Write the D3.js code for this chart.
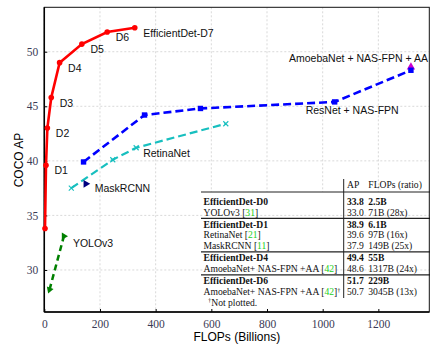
<!DOCTYPE html>
<html>
<head>
<meta charset="utf-8">
<script src="https://cdn.jsdelivr.net/npm/d3@7"></script>
<style>
  body { margin: 0; background: #fff; }
  svg { display: block; }
</style>
</head>
<body>
<svg id="chart" width="444" height="348"></svg>
<script>
// FLOPs (billions) vs COCO AP
const effFlops = [2.5, 6.1, 11, 25, 55, 135, 226, 325];
const effAP    = [33.8, 39.6, 43.0, 45.8, 49.0, 50.7, 51.8, 52.2];
const effNames = ['', 'D1', 'D2', 'D3', 'D4', 'D5', 'D6', 'EfficientDet-D7'];

const nasFlops = [141, 360, 561, 1043, 1317];
const nasAP    = [39.9, 44.2, 44.8, 45.4, 48.3];

const retinaFlops = [97, 246, 330, 652];
const retinaAP    = [37.5, 40.1, 41.2, 43.4];

const yoloFlops = [18.8, 70.4];
const yoloAP    = [28.2, 33.1];

const maskFlops = 149, maskAP = 37.9;
const amoebaFlops = 1317, amoebaAP = 48.6;

const xTicks = [0, 200, 400, 600, 800, 1000, 1200];
const yTicks = [30, 35, 40, 45, 50];

// inset table
const tableHeader = ['AP', 'FLOPs (ratio)'];
const tableModels = ['EfficientDet-D0', 'YOLOv3', 'EfficientDet-D1', 'RetinaNet', 'MaskRCNN',
                     'EfficientDet-D4', 'AmoebaNet+ NAS-FPN +AA', 'EfficientDet-D6', 'AmoebaNet+ NAS-FPN +AA'];
const tableRefs   = ['', '31', '', '21', '11', '', '42', '', '42'];
const tableAP     = ['33.8', '33.0', '38.9', '39.6', '37.9', '49.4', '48.6', '51.7', '50.7'];
const tableFlops  = ['2.5B', '71B (28x)', '6.1B', '97B (16x)', '149B (25x)', '55B', '1317B (24x)', '229B', '3045B (13x)'];
const tableGroups = [0, 0, 1, 1, 1, 2, 2, 3, 3];

const svg = d3.select('#chart');
const pLeft = 44.3, pRight = 429.3, pTop = 7.3, pBottom = 312;

const x = d3.scaleLinear().domain([0, 1383]).range([pLeft, pRight]);
const y = d3.scaleLinear().domain([26.15, 54.07]).range([pBottom, pTop]);

const sans = 'Liberation Sans, Arial, sans-serif';
const serif = 'Liberation Serif, Times New Roman, serif';
const gridStyle = g => g.attr('stroke', '#cfcfcf').attr('stroke-width', 0.8).attr('stroke-dasharray', '2,2');

// vertical grid
svg.append('g').call(gridStyle).selectAll('line').data(xTicks).enter().append('line')
  .attr('x1', d => x(d)).attr('x2', d => x(d)).attr('y1', pTop).attr('y2', pBottom);

// inset table body hides the vertical grid
const tLeft = 201, tRight = 430, colDiv = 343.7, colAP = 347, colFlops = 368.3;
svg.append('rect').attr('x', tLeft).attr('y', 192).attr('width', pRight - tLeft).attr('height', pBottom - 192)
  .attr('fill', '#fff');

// horizontal grid
svg.append('g').call(gridStyle).selectAll('line').data(yTicks).enter().append('line')
  .attr('y1', d => y(d)).attr('y2', d => y(d)).attr('x1', pLeft).attr('x2', pRight);

// axes
const xAxis = svg.append('g').attr('transform', `translate(0,${pBottom})`)
  .call(d3.axisBottom(x).tickValues(xTicks).tickFormat(d3.format('d')).tickSize(-3).tickPadding(8));
const yAxis = svg.append('g').attr('transform', `translate(${pLeft},0)`)
  .call(d3.axisLeft(y).tickValues(yTicks).tickSize(-3).tickPadding(6));
[xAxis, yAxis].forEach(a => {
  a.select('.domain').remove();
  a.selectAll('.tick line').attr('stroke', '#000');
  a.selectAll('.tick text').attr('font-family', serif).attr('font-size', 11.5).attr('fill', '#3a3a55');
});

svg.append('text').attr('x', (pLeft + pRight) / 2).attr('y', 341)
  .attr('text-anchor', 'middle').attr('font-family', sans).attr('font-size', 12).text('FLOPs (Billions)');
svg.append('text').attr('transform', 'translate(23,160) rotate(-90)')
  .attr('text-anchor', 'middle').attr('font-family', sans).attr('font-size', 12).text('COCO AP');

// table text and rules
const tb = svg.append('g').attr('font-family', serif).attr('font-size', 9.6).attr('fill', '#111');
const rowY = (i) => 201.5 + i * 10.7 + tableGroups[i] * 1.5;

tb.append('text').attr('x', colAP).attr('y', 185).attr('dy', '0.35em').text(tableHeader[0]);
tb.append('text').attr('x', colFlops).attr('y', 185).attr('dy', '0.35em').text(tableHeader[1]);

const rules = [192];
for (let i = 1; i < tableModels.length; i++) {
  if (tableGroups[i] !== tableGroups[i - 1]) rules.push((rowY(i - 1) + rowY(i)) / 2);
}
tb.selectAll('.rule').data(rules).enter().append('line')
  .attr('x1', tLeft).attr('x2', tRight).attr('y1', d => d).attr('y2', d => d)
  .attr('stroke', '#222').attr('stroke-width', 1.2);
tb.append('line').attr('x1', colDiv).attr('x2', colDiv).attr('y1', 179).attr('y2', 298)
  .attr('stroke', '#222').attr('stroke-width', 1);

tableModels.forEach((m, i) => {
  const bold = tableRefs[i] === '';
  const t = tb.append('text').attr('x', 203.5).attr('y', rowY(i)).attr('dy', '0.35em')
    .attr('font-weight', bold ? 'bold' : 'normal');
  t.append('tspan').text(m);
  if (!bold) {
    t.append('tspan').text(' [');
    t.append('tspan').attr('fill', '#22d022').text(tableRefs[i]);
    t.append('tspan').text(']');
    if (i === tableModels.length - 1) t.append('tspan').attr('font-size', 6.5).attr('dy', '-0.45em').text('†');
  }
  tb.append('text').attr('x', colAP).attr('y', rowY(i)).attr('dy', '0.35em')
    .attr('font-weight', bold ? 'bold' : 'normal').text(tableAP[i]);
  tb.append('text').attr('x', colFlops).attr('y', rowY(i)).attr('dy', '0.35em')
    .attr('font-weight', bold ? 'bold' : 'normal').text(tableFlops[i]);
});
const foot = tb.append('text').attr('x', 208).attr('y', rowY(8) + 10.7).attr('dy', '0.35em');
foot.append('tspan').attr('font-size', 6.5).attr('dy', '-0.1em').text('†');
foot.append('tspan').attr('dy', '0.45em').text('Not plotted.');

// frame
svg.append('rect').attr('x', pLeft).attr('y', pTop).attr('width', pRight - pLeft).attr('height', pBottom - pTop)
  .attr('fill', 'none').attr('stroke', '#111').attr('stroke-width', 1);
svg.append('line').attr('x1', pLeft).attr('x2', pLeft).attr('y1', pTop).attr('y2', pBottom)
  .attr('stroke', '#000').attr('stroke-width', 1.5);
svg.append('line').attr('x1', pLeft).attr('x2', pRight).attr('y1', pBottom).attr('y2', pBottom)
  .attr('stroke', '#000').attr('stroke-width', 1.5);

const line = d3.line().x(d => x(d[0])).y(d => y(d[1]));
const pts = (xs, ys) => xs.map((v, i) => [v, ys[i]]);

// YOLOv3
const yolo = pts(yoloFlops, yoloAP);
svg.append('path').datum(yolo).attr('d', line).attr('fill', 'none')
  .attr('stroke', '#008000').attr('stroke-width', 2.5).attr('stroke-dasharray', '6,4');
svg.selectAll('.yolo').data(yolo).enter().append('path')
  .attr('transform', d => `translate(${x(d[0])},${y(d[1])}) rotate(${d[1] > 30 ? 90 : 200})`)
  .attr('d', d3.symbol(d3.symbolTriangle, 22)).attr('fill', '#008000');

// RetinaNet
const retina = pts(retinaFlops, retinaAP);
svg.append('path').datum(retina).attr('d', line).attr('fill', 'none')
  .attr('stroke', '#17bfbf').attr('stroke-width', 2.2).attr('stroke-dasharray', '8,4');
svg.selectAll('.ret').data(retina).enter().append('path')
  .attr('transform', d => `translate(${x(d[0])},${y(d[1])})`)
  .attr('d', d3.symbol(d3.symbolX, 18)).attr('stroke', '#17bfbf').attr('stroke-width', 1.1).attr('fill', 'none');

// MaskRCNN
svg.append('path').attr('transform', `translate(${x(maskFlops)},${y(maskAP)}) rotate(90)`)
  .attr('d', d3.symbol(d3.symbolTriangle, 26)).attr('fill', '#000080');

// ResNet + NAS-FPN
const nas = pts(nasFlops, nasAP);
svg.append('path').datum(nas).attr('d', line).attr('fill', 'none')
  .attr('stroke', '#0000ff').attr('stroke-width', 2.6).attr('stroke-dasharray', '8,4');

// AmoebaNet + NAS-FPN + AA
svg.append('path').attr('transform', `translate(${x(amoebaFlops)},${y(amoebaAP)})`)
  .attr('d', d3.symbol(d3.symbolTriangle, 30)).attr('fill', '#cc00cc');

svg.selectAll('.nas').data(nas).enter().append('rect')
  .attr('x', d => x(d[0]) - 2.7).attr('y', d => y(d[1]) - 2.7).attr('width', 5.4).attr('height', 5.4)
  .attr('fill', '#0000ff');

// EfficientDet
const eff = pts(effFlops, effAP);
svg.append('path').datum(eff).attr('d', line).attr('fill', 'none')
  .attr('stroke', '#ff0000').attr('stroke-width', 2.6);
svg.selectAll('.eff').data(eff).enter().append('circle')
  .attr('cx', d => x(d[0])).attr('cy', d => y(d[1])).attr('r', 2.8).attr('fill', '#ff0000');

// labels
const lab = svg.append('g').attr('font-family', sans).attr('font-size', 10.5).attr('fill', '#111');
effNames.forEach((n, i) => {
  if (!n) return;
  lab.append('text').attr('x', x(effFlops[i]) + 8.5).attr('y', y(effAP[i]) + 5.5).attr('dy', '0.35em').text(n);
});
lab.append('text').attr('x', x(retinaFlops[2]) + 7).attr('y', y(retinaAP[2]) + 5.6).attr('dy', '0.35em').text('RetinaNet');
lab.append('text').attr('x', x(maskFlops) + 9).attr('y', y(maskAP) + 5).attr('dy', '0.35em').text('MaskRCNN');
lab.append('text').attr('x', x(yoloFlops[1]) + 9).attr('y', y(yoloAP[1]) + 7).attr('dy', '0.35em').text('YOLOv3');
lab.append('text').attr('x', x(nasFlops[3]) - 29).attr('y', y(nasAP[3]) + 8).attr('dy', '0.35em').text('ResNet + NAS-FPN');
lab.append('text').attr('x', x(amoebaFlops) + 17).attr('y', y(amoebaAP) - 8.4).attr('dy', '0.35em')
  .attr('text-anchor', 'end').text('AmoebaNet + NAS-FPN + AA');
</script>
</body>
</html>
